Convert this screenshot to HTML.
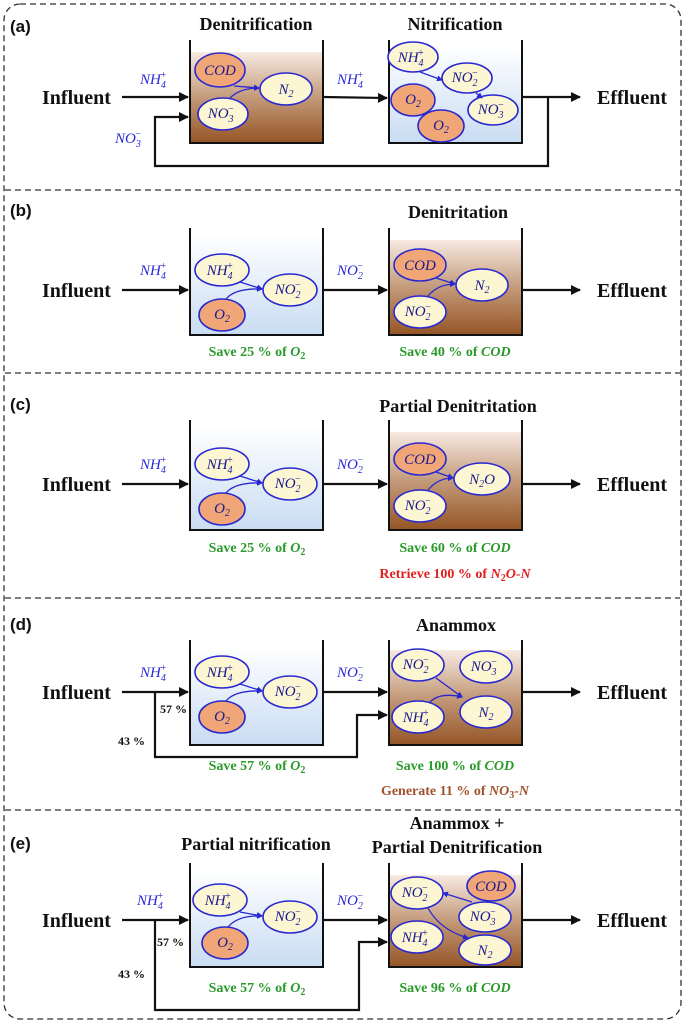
<!DOCTYPE html>
<html><head><meta charset="utf-8"><style>
html,body{margin:0;padding:0;background:#fff}
svg{display:block}
.t{font-family:"Liberation Serif",serif;font-weight:bold;font-size:18px;fill:#111;text-anchor:middle}
.lab{font-family:"Liberation Sans",sans-serif;font-weight:bold;font-size:17px;fill:#111}
.io{font-family:"Liberation Serif",serif;font-weight:bold;font-size:20px;fill:#111}
.c{font-family:"Liberation Serif",serif;font-style:italic;font-size:15px;fill:#2a2ad8}
.ce{font-family:"Liberation Serif",serif;font-style:italic;font-size:15px;fill:#1a1a90;text-anchor:middle}
.s{font-family:"Liberation Serif",serif;font-weight:bold;font-size:14px;fill:#2a9a2a;text-anchor:middle}
.p{font-family:"Liberation Serif",serif;font-weight:bold;font-size:12px;fill:#111}
.e{fill:#fdf6d2;stroke:#2828d0;stroke-width:1.6}
.o{fill:#f0a676;stroke:#2828d0;stroke-width:1.6}
.tk{fill:none;stroke:#111;stroke-width:2}
.ar{stroke:#111;stroke-width:2.2;fill:none;marker-end:url(#ah)}
.ln{stroke:#111;stroke-width:2.2;fill:none}
.ba{stroke:#2828d0;stroke-width:1.3;fill:none;marker-end:url(#bh)}
</style></head><body>
<svg width="685" height="1023" viewBox="0 0 685 1023" xmlns="http://www.w3.org/2000/svg">
<defs>
<marker id="ah" markerWidth="10" markerHeight="10" refX="9" refY="5" orient="auto" markerUnits="userSpaceOnUse"><path d="M0,0 L10,5 L0,10 z" fill="#111"/></marker>
<marker id="bh" markerWidth="6" markerHeight="6" refX="5" refY="3" orient="auto" markerUnits="userSpaceOnUse"><path d="M0,0 L6,3 L0,6 z" fill="#2828d0"/></marker>
<linearGradient id="br" x1="0" y1="0" x2="0" y2="1"><stop offset="0" stop-color="#f7eae2"/><stop offset="0.5" stop-color="#c39a7a"/><stop offset="1" stop-color="#955525"/></linearGradient>
<linearGradient id="bl" x1="0" y1="0" x2="0" y2="1"><stop offset="0" stop-color="#ffffff"/><stop offset="1" stop-color="#c9dcf3"/></linearGradient>
</defs>
<rect x="4" y="4" width="677" height="1015" rx="16" fill="none" stroke="#333" stroke-width="1.3" stroke-dasharray="6,4"/>
<g stroke="#333" stroke-width="1.3" stroke-dasharray="6,4">
<line x1="5" y1="190" x2="680" y2="190"/><line x1="5" y1="373" x2="680" y2="373"/>
<line x1="5" y1="598" x2="680" y2="598"/><line x1="5" y1="810" x2="680" y2="810"/>
</g>

<!-- (a) -->
<text class="lab" x="10" y="32">(a)</text>
<text class="t" x="256" y="30">Denitrification</text>
<text class="t" x="455" y="30">Nitrification</text>
<rect x="190" y="52" width="132" height="91" fill="url(#br)"/>
<rect x="389" y="45" width="132" height="98" fill="url(#bl)"/>
<path class="tk" d="M190,40 V143 H323 V40"/><path class="tk" d="M389,40 V143 H522 V40"/>
<text class="io" x="42" y="104">Influent</text>
<text class="io" x="597" y="104">Effluent</text>
<line class="ar" x1="122" y1="97" x2="188" y2="97"/>
<line class="ar" x1="323" y1="97" x2="387" y2="98"/>
<line class="ar" x1="522" y1="97" x2="580" y2="97"/>
<polyline class="ar" points="548,97 548,166 155,166 155,117 188,117"/>
<text class="c" x="140" y="84">NH<tspan dy="4" font-size="10">4</tspan><tspan dy="-10" dx="-6" font-size="10">+</tspan></text>
<text class="c" x="115" y="143">NO<tspan dy="4" font-size="10">3</tspan><tspan dy="-10" dx="-6" font-size="10">−</tspan></text>
<text class="c" x="337" y="84">NH<tspan dy="4" font-size="10">4</tspan><tspan dy="-10" dx="-6" font-size="10">+</tspan></text>
<ellipse class="o" cx="220" cy="70" rx="25" ry="17"/><text class="ce" x="220" y="75">COD</text>
<ellipse class="e" cx="286" cy="89" rx="26" ry="16"/><text class="ce" x="286" y="94">N<tspan dy="3" font-size="10">2</tspan></text>
<ellipse class="e" cx="223" cy="114" rx="25" ry="16"/><text class="ce" x="221" y="118">NO<tspan dy="4" font-size="10">3</tspan><tspan dy="-10" dx="-6" font-size="10">−</tspan></text>
<path class="ba" d="M234,86 L259,88"/><path class="ba" d="M230,98 Q240,88 259,88"/>
<ellipse class="e" cx="413" cy="57" rx="25" ry="15"/><text class="ce" x="411" y="62">NH<tspan dy="4" font-size="10">4</tspan><tspan dy="-10" dx="-6" font-size="10">+</tspan></text>
<ellipse class="e" cx="467" cy="78" rx="25" ry="15"/><text class="ce" x="465" y="82">NO<tspan dy="4" font-size="10">2</tspan><tspan dy="-10" dx="-6" font-size="10">−</tspan></text>
<ellipse class="o" cx="413" cy="100" rx="22" ry="16"/><text class="ce" x="413" y="104">O<tspan dy="3" font-size="10">2</tspan></text>
<ellipse class="e" cx="493" cy="110" rx="25" ry="15"/><text class="ce" x="491" y="114">NO<tspan dy="4" font-size="10">3</tspan><tspan dy="-10" dx="-6" font-size="10">−</tspan></text>
<ellipse class="o" cx="441" cy="126" rx="23" ry="16"/><text class="ce" x="441" y="130">O<tspan dy="3" font-size="10">2</tspan></text>
<path class="ba" d="M420,72 L442,80"/><path class="ba" d="M476,93 L482,98"/>

<!-- (b) -->
<text class="lab" x="10" y="216">(b)</text>
<text class="t" x="458" y="218">Denitritation</text>
<rect x="190" y="235" width="132" height="100" fill="url(#bl)"/>
<rect x="389" y="240" width="132" height="95" fill="url(#br)"/>
<path class="tk" d="M190,228 V335 H323 V228"/><path class="tk" d="M389,228 V335 H522 V228"/>
<text class="io" x="42" y="297">Influent</text><text class="io" x="597" y="297">Effluent</text>
<line class="ar" x1="122" y1="290" x2="188" y2="290"/>
<line class="ar" x1="323" y1="290" x2="387" y2="290"/>
<line class="ar" x1="522" y1="290" x2="580" y2="290"/>
<text class="c" x="140" y="275">NH<tspan dy="4" font-size="10">4</tspan><tspan dy="-10" dx="-6" font-size="10">+</tspan></text>
<text class="c" x="337" y="275">NO<tspan dy="4" font-size="10">2</tspan><tspan dy="-10" dx="-6" font-size="10">−</tspan></text>
<ellipse class="e" cx="222" cy="270" rx="27" ry="16"/><text class="ce" x="220" y="275">NH<tspan dy="4" font-size="10">4</tspan><tspan dy="-10" dx="-6" font-size="10">+</tspan></text>
<ellipse class="e" cx="290" cy="290" rx="27" ry="16"/><text class="ce" x="288" y="294">NO<tspan dy="4" font-size="10">2</tspan><tspan dy="-10" dx="-6" font-size="10">−</tspan></text>
<ellipse class="o" cx="222" cy="315" rx="23" ry="16"/><text class="ce" x="222" y="319">O<tspan dy="3" font-size="10">2</tspan></text>
<path class="ba" d="M240,282 L262,289"/><path class="ba" d="M226,299 Q235,288 262,289"/>
<ellipse class="o" cx="420" cy="265" rx="26" ry="16"/><text class="ce" x="420" y="270">COD</text>
<ellipse class="e" cx="482" cy="285" rx="26" ry="16"/><text class="ce" x="482" y="290">N<tspan dy="3" font-size="10">2</tspan></text>
<ellipse class="e" cx="420" cy="312" rx="26" ry="16"/><text class="ce" x="418" y="316">NO<tspan dy="4" font-size="10">2</tspan><tspan dy="-10" dx="-6" font-size="10">−</tspan></text>
<path class="ba" d="M436,278 L455,284"/><path class="ba" d="M428,296 Q438,284 455,284"/>
<text class="s" x="257" y="356">Save 25 % of <tspan font-style="italic">O</tspan><tspan dy="3" font-size="10">2</tspan></text>
<text class="s" x="455" y="356">Save 40 % of <tspan font-style="italic">COD</tspan></text>

<!-- (c) -->
<text class="lab" x="10" y="410">(c)</text>
<text class="t" x="458" y="412">Partial Denitritation</text>
<rect x="190" y="427" width="132" height="103" fill="url(#bl)"/>
<rect x="389" y="432" width="132" height="98" fill="url(#br)"/>
<path class="tk" d="M190,420 V530 H323 V420"/><path class="tk" d="M389,420 V530 H522 V420"/>
<text class="io" x="42" y="491">Influent</text><text class="io" x="597" y="491">Effluent</text>
<line class="ar" x1="122" y1="484" x2="188" y2="484"/>
<line class="ar" x1="323" y1="484" x2="387" y2="484"/>
<line class="ar" x1="522" y1="484" x2="580" y2="484"/>
<text class="c" x="140" y="469">NH<tspan dy="4" font-size="10">4</tspan><tspan dy="-10" dx="-6" font-size="10">+</tspan></text>
<text class="c" x="337" y="469">NO<tspan dy="4" font-size="10">2</tspan><tspan dy="-10" dx="-6" font-size="10">−</tspan></text>
<ellipse class="e" cx="222" cy="464" rx="27" ry="16"/><text class="ce" x="220" y="469">NH<tspan dy="4" font-size="10">4</tspan><tspan dy="-10" dx="-6" font-size="10">+</tspan></text>
<ellipse class="e" cx="290" cy="484" rx="27" ry="16"/><text class="ce" x="288" y="488">NO<tspan dy="4" font-size="10">2</tspan><tspan dy="-10" dx="-6" font-size="10">−</tspan></text>
<ellipse class="o" cx="222" cy="509" rx="23" ry="16"/><text class="ce" x="222" y="513">O<tspan dy="3" font-size="10">2</tspan></text>
<path class="ba" d="M240,476 L262,483"/><path class="ba" d="M226,493 Q235,482 262,483"/>
<ellipse class="o" cx="420" cy="459" rx="26" ry="16"/><text class="ce" x="420" y="464">COD</text>
<ellipse class="e" cx="482" cy="479" rx="28" ry="16"/><text class="ce" x="482" y="484">N<tspan dy="3" font-size="10">2</tspan><tspan dy="-3">O</tspan></text>
<ellipse class="e" cx="420" cy="506" rx="26" ry="16"/><text class="ce" x="418" y="510">NO<tspan dy="4" font-size="10">2</tspan><tspan dy="-10" dx="-6" font-size="10">−</tspan></text>
<path class="ba" d="M436,472 L453,478"/><path class="ba" d="M428,490 Q438,478 453,478"/>
<text class="s" x="257" y="552">Save 25 % of <tspan font-style="italic">O</tspan><tspan dy="3" font-size="10">2</tspan></text>
<text class="s" x="455" y="552">Save 60 % of <tspan font-style="italic">COD</tspan></text>
<text class="s" x="455" y="578" style="fill:#e02020">Retrieve 100 % of  <tspan font-style="italic">N</tspan><tspan dy="3" font-size="10">2</tspan><tspan dy="-3" font-style="italic">O-N</tspan></text>

<!-- (d) -->
<text class="lab" x="10" y="630">(d)</text>
<text class="t" x="456" y="631">Anammox</text>
<rect x="190" y="647" width="132" height="98" fill="url(#bl)"/>
<rect x="389" y="650" width="132" height="95" fill="url(#br)"/>
<path class="tk" d="M190,640 V745 H323 V640"/><path class="tk" d="M389,640 V745 H522 V640"/>
<text class="io" x="42" y="699">Influent</text><text class="io" x="597" y="699">Effluent</text>
<line class="ar" x1="122" y1="692" x2="188" y2="692"/>
<line class="ar" x1="323" y1="692" x2="387" y2="692"/>
<line class="ar" x1="522" y1="692" x2="580" y2="692"/>
<polyline class="ar" points="155,692 155,757 357,757 357,715 387,715"/>
<text class="p" x="160" y="713">57 %</text><text class="p" x="118" y="745">43 %</text>
<text class="c" x="140" y="677">NH<tspan dy="4" font-size="10">4</tspan><tspan dy="-10" dx="-6" font-size="10">+</tspan></text>
<text class="c" x="337" y="677">NO<tspan dy="4" font-size="10">2</tspan><tspan dy="-10" dx="-6" font-size="10">−</tspan></text>
<ellipse class="e" cx="222" cy="672" rx="27" ry="16"/><text class="ce" x="220" y="677">NH<tspan dy="4" font-size="10">4</tspan><tspan dy="-10" dx="-6" font-size="10">+</tspan></text>
<ellipse class="e" cx="290" cy="692" rx="27" ry="16"/><text class="ce" x="288" y="696">NO<tspan dy="4" font-size="10">2</tspan><tspan dy="-10" dx="-6" font-size="10">−</tspan></text>
<ellipse class="o" cx="222" cy="717" rx="23" ry="16"/><text class="ce" x="222" y="721">O<tspan dy="3" font-size="10">2</tspan></text>
<path class="ba" d="M240,684 L262,691"/><path class="ba" d="M226,701 Q235,690 262,691"/>
<ellipse class="e" cx="418" cy="665" rx="26" ry="16"/><text class="ce" x="416" y="669">NO<tspan dy="4" font-size="10">2</tspan><tspan dy="-10" dx="-6" font-size="10">−</tspan></text>
<ellipse class="e" cx="486" cy="667" rx="26" ry="16"/><text class="ce" x="484" y="671">NO<tspan dy="4" font-size="10">3</tspan><tspan dy="-10" dx="-6" font-size="10">−</tspan></text>
<ellipse class="e" cx="418" cy="717" rx="26" ry="16"/><text class="ce" x="416" y="722">NH<tspan dy="4" font-size="10">4</tspan><tspan dy="-10" dx="-6" font-size="10">+</tspan></text>
<ellipse class="e" cx="486" cy="712" rx="26" ry="16"/><text class="ce" x="486" y="717">N<tspan dy="3" font-size="10">2</tspan></text>
<path class="ba" d="M436,678 L462,697"/><path class="ba" d="M430,702 Q440,692 462,697"/>
<text class="s" x="257" y="770">Save 57 % of <tspan font-style="italic">O</tspan><tspan dy="3" font-size="10">2</tspan></text>
<text class="s" x="455" y="770">Save 100 % of <tspan font-style="italic">COD</tspan></text>
<text class="s" x="455" y="795" style="fill:#a0522d">Generate 11 % of  <tspan font-style="italic">NO</tspan><tspan dy="3" font-size="10">3</tspan><tspan dy="-3" font-style="italic">-N</tspan></text>

<!-- (e) -->
<text class="lab" x="10" y="849">(e)</text>
<text class="t" x="457" y="829">Anammox +</text>
<text class="t" x="457" y="853">Partial Denitrification</text>
<text class="t" x="256" y="850">Partial nitrification</text>
<rect x="190" y="870" width="132" height="97" fill="url(#bl)"/>
<rect x="389" y="875" width="132" height="92" fill="url(#br)"/>
<path class="tk" d="M190,863 V967 H323 V863"/><path class="tk" d="M389,863 V967 H522 V863"/>
<text class="io" x="42" y="927">Influent</text><text class="io" x="597" y="927">Effluent</text>
<line class="ar" x1="122" y1="920" x2="188" y2="920"/>
<line class="ar" x1="323" y1="920" x2="387" y2="920"/>
<line class="ar" x1="522" y1="920" x2="580" y2="920"/>
<polyline class="ar" points="155,920 155,1010 359,1010 359,942 387,942"/>
<text class="p" x="157" y="946">57 %</text><text class="p" x="118" y="978">43 %</text>
<text class="c" x="137" y="905">NH<tspan dy="4" font-size="10">4</tspan><tspan dy="-10" dx="-6" font-size="10">+</tspan></text>
<text class="c" x="337" y="905">NO<tspan dy="4" font-size="10">2</tspan><tspan dy="-10" dx="-6" font-size="10">−</tspan></text>
<ellipse class="e" cx="220" cy="900" rx="27" ry="16"/><text class="ce" x="218" y="905">NH<tspan dy="4" font-size="10">4</tspan><tspan dy="-10" dx="-6" font-size="10">+</tspan></text>
<ellipse class="e" cx="290" cy="917" rx="27" ry="16"/><text class="ce" x="288" y="921">NO<tspan dy="4" font-size="10">2</tspan><tspan dy="-10" dx="-6" font-size="10">−</tspan></text>
<ellipse class="o" cx="225" cy="943" rx="23" ry="16"/><text class="ce" x="225" y="947">O<tspan dy="3" font-size="10">2</tspan></text>
<path class="ba" d="M240,912 L262,916"/><path class="ba" d="M228,927 Q238,915 262,916"/>
<ellipse class="e" cx="417" cy="893" rx="26" ry="16"/><text class="ce" x="415" y="897">NO<tspan dy="4" font-size="10">2</tspan><tspan dy="-10" dx="-6" font-size="10">−</tspan></text>
<ellipse class="o" cx="491" cy="886" rx="24" ry="15"/><text class="ce" x="491" y="891">COD</text>
<ellipse class="e" cx="485" cy="917" rx="26" ry="15"/><text class="ce" x="483" y="921">NO<tspan dy="4" font-size="10">3</tspan><tspan dy="-10" dx="-6" font-size="10">−</tspan></text>
<ellipse class="e" cx="417" cy="937" rx="26" ry="16"/><text class="ce" x="415" y="942">NH<tspan dy="4" font-size="10">4</tspan><tspan dy="-10" dx="-6" font-size="10">+</tspan></text>
<ellipse class="e" cx="485" cy="950" rx="26" ry="15"/><text class="ce" x="485" y="955">N<tspan dy="3" font-size="10">2</tspan></text>
<path class="ba" d="M472,902 L443,893"/><path class="ba" d="M428,908 Q440,930 468,938"/>
<text class="s" x="257" y="992">Save 57 % of <tspan font-style="italic">O</tspan><tspan dy="3" font-size="10">2</tspan></text>
<text class="s" x="455" y="992">Save 96 % of <tspan font-style="italic">COD</tspan></text>
</svg>
</body></html>
